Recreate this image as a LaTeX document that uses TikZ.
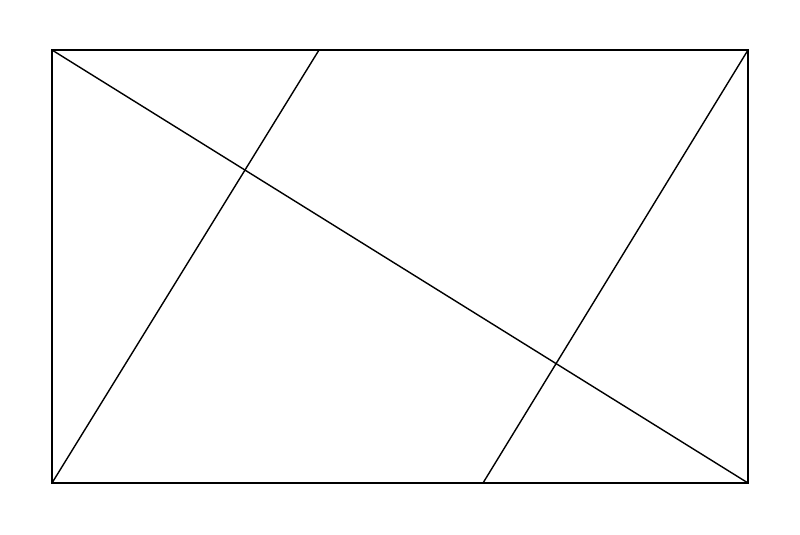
\documentclass[tikz,border=0pt]{standalone}
\begin{document}
\begin{tikzpicture}[
    x=0.02cm, y=-0.02cm,
    % Line styles
    frame-line/.style={draw=black, line width=0.8pt},
    cut-line/.style={draw=black, line width=0.8pt},
]

% Canvas
\useasboundingbox (0,0) rectangle (800,534);

% === CORNERS AND CUT POINTS ===
\coordinate (tl) at (52,50);
\coordinate (tr) at (748,50);
\coordinate (bl) at (52,483);
\coordinate (br) at (748,483);
\coordinate (top-cut) at (319,50);
\coordinate (bottom-cut) at (483,483);

% === FRAME ===
\draw[frame-line] (tl) rectangle (br);

% === CUTS ===
\draw[cut-line] (tl) -- (br);
\draw[cut-line] (top-cut) -- (bl);
\draw[cut-line] (tr) -- (bottom-cut);

\end{tikzpicture}
\end{document}
